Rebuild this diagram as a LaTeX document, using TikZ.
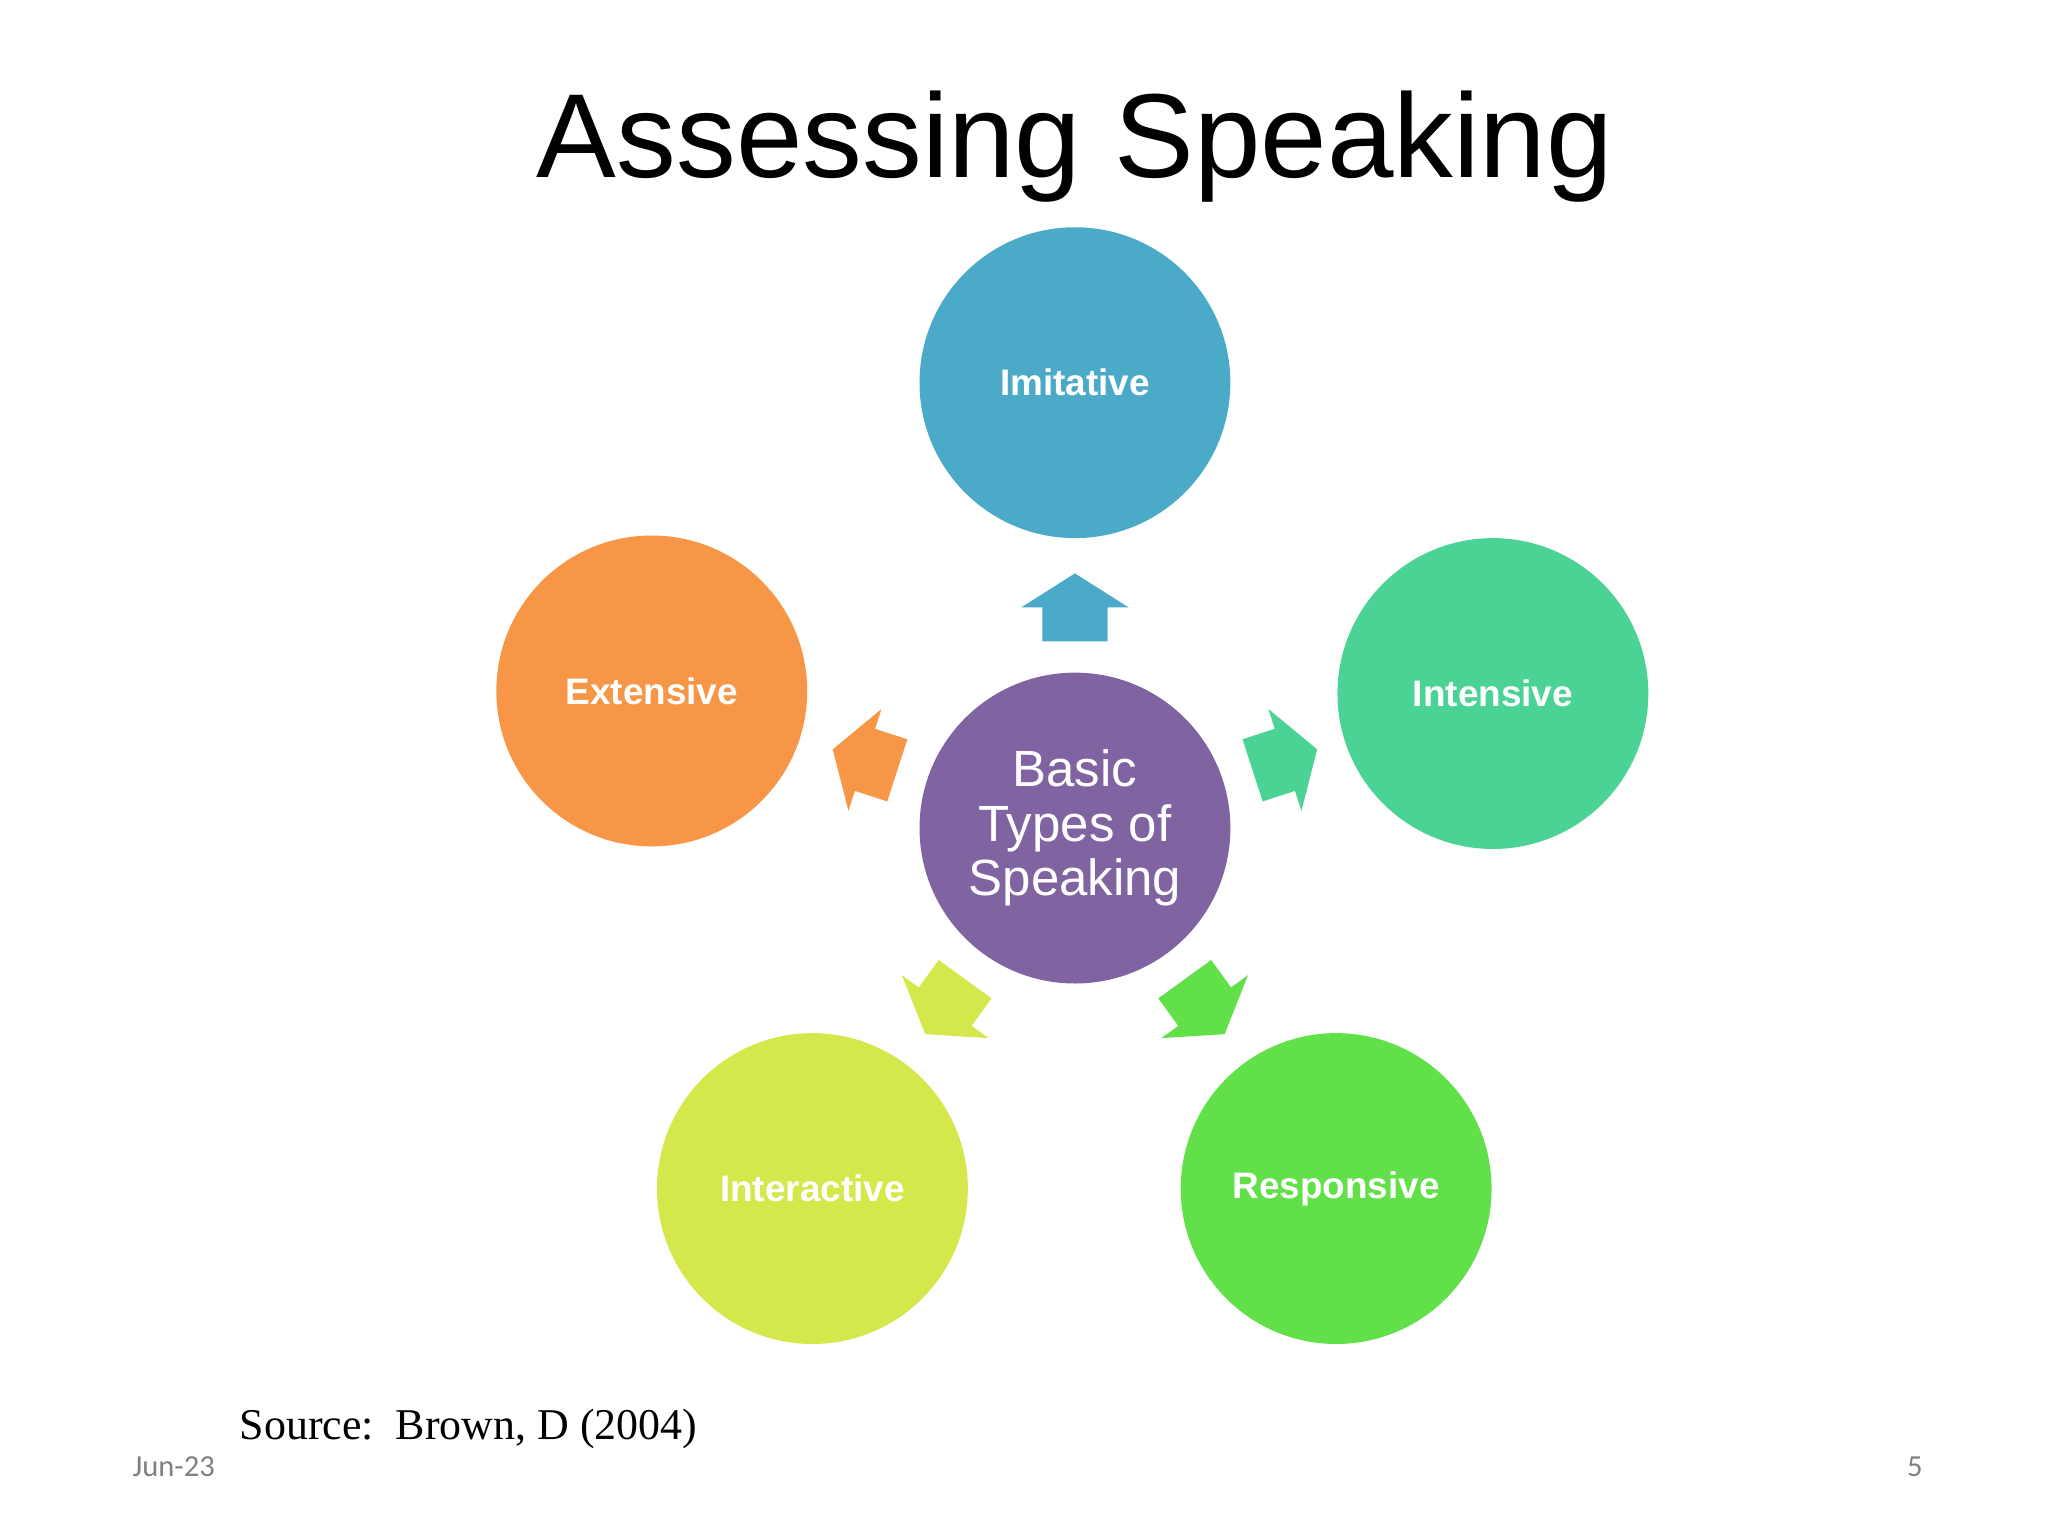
\documentclass[tikz,border=0pt]{standalone}
\usepackage{fontspec}
\setmainfont{Liberation Sans}
\newfontfamily\timesf{Liberation Serif}
\newfontfamily\calf{Carlito}
\definecolor{cImi}{HTML}{4BAAC8}
\definecolor{cInt}{HTML}{4AD394}
\definecolor{cRes}{HTML}{62E04A}
\definecolor{cIna}{HTML}{D5E84B}
\definecolor{cExt}{HTML}{F79646}
\definecolor{cCen}{HTML}{8064A2}
\begin{document}
\begin{tikzpicture}[x=0.013061cm,y=0.013061cm,
  bub/.style={circle,minimum size={238*0.013061cm},inner sep=0pt,text=white,font=\fontsize{10.5}{12}\selectfont\bfseries}]
\useasboundingbox (0,0) rectangle (1568,-1176);
\node[font=\fontsize{34}{40}\selectfont] (title) at (823,-112) {Assessing Speaking};
\node[bub,fill=cCen,font=\fontsize{14.5}{15.5}\selectfont,align=center] (cen) at (823,-634) {Basic\\Types of\\Speaking};
\node[bub,fill=cImi] (imi) at (823,-293) {Imitative};
\node[bub,fill=cInt] (int) at (1143,-531) {Intensive};
\node[bub,fill=cRes] (res) at (1023,-910) {Responsive};
\node[bub,fill=cIna] (ina) at (622,-910) {Interactive};
\node[bub,fill=cExt] (ext) at (499,-529) {Extensive};
\foreach \a/\c in {90/cImi,18/cInt,-54/cRes,-126/cIna,162/cExt}{
  \begin{scope}[shift={(cen.center)},rotate=\a]
    \fill[\c] (143,-25) -- (169,-25) -- (169,-41) -- (195,0) -- (169,41) -- (169,25) -- (143,25) -- cycle;
  \end{scope}}
\node[font=\timesf\fontsize{12.5}{14}\selectfont,anchor=west] (src) at (174,-1094) {Source:~~Brown, D (2004)};
\node[font=\calf\fontsize{8.7}{10}\selectfont,text=gray,anchor=west] (date) at (92,-1123) {Jun-23};
\node[font=\calf\fontsize{8.7}{10}\selectfont,text=gray] (num) at (1466,-1123) {5};
\end{tikzpicture}
\end{document}
